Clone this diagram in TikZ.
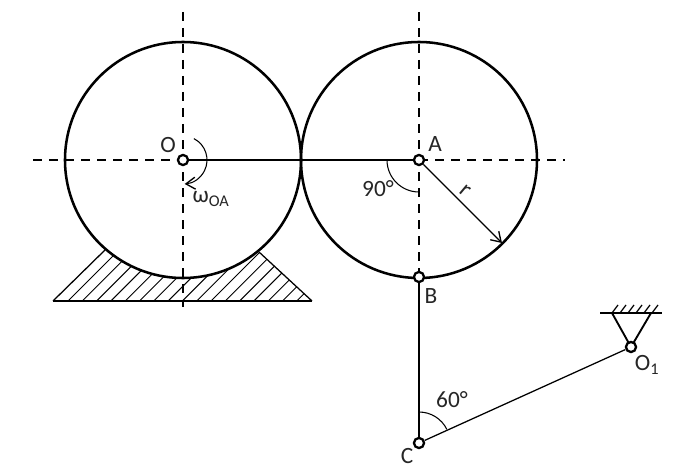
\documentclass[tikz,border=0pt]{standalone}
\usepackage{fontspec}
\setmainfont{Carlito}
\usetikzlibrary{arrows.meta}
\tikzset{
  pivot/.style={circle,draw=black,fill=white,line width=1.7pt,minimum size=7.6pt,inner sep=0pt},
  wheelline/.style={line width=1.9pt},
  axisline/.style={line width=1.05pt,dash pattern=on 7pt off 5pt},
  barline/.style={line width=0.95pt},
  thinline/.style={line width=0.8pt},
  hatchline/.style={line width=0.7pt},
  lab/.style={inner sep=0pt,font=\fontsize{17.5}{20}\selectfont,text=black!85},
  openarrow/.style={-{Straight Barb[length=7pt,width=9pt,line width=1pt]}}
}
\begin{document}
\begin{tikzpicture}[x=0.75pt,y=-0.75pt]
\useasboundingbox (0,0) rectangle (700,467);
\fill[white] (0,0) rectangle (700,467);
\coordinate (Oc) at (183,160);
\coordinate (Ac) at (419,160);
\coordinate (Bc) at (419,277);
\coordinate (Cc) at (419,443);
\coordinate (Qc) at (631,347);
\coordinate (gl) at (53,301);
\coordinate (gt1) at (105,250);
\coordinate (gt2) at (259,252);
\coordinate (gr) at (312,301);
\coordinate (rend) at (502,243);
% hatched ground
\begin{scope}
\clip (gl) -- (gt1) -- (gt2) -- (gr) -- cycle;
\foreach \x in {68,82.3,...,300}{
  \draw[hatchline] (\x,301) -- ++(60,-60);
}
\end{scope}
\fill[white] (Oc) circle (118);
\draw[barline] (gl) -- (gr);
\draw[barline] (gt2) -- (gr);
\draw[barline] (gl) -- (gt1);
% axes
\coordinate (h1a) at (33,160);
\coordinate (h1b) at (178,160);
\coordinate (v1a) at (183,12);
\coordinate (v1b) at (183,307);
\coordinate (h2b) at (565,160);
\coordinate (v2a) at (419,12);
\draw[axisline] (h1a) -- (h1b);
\draw[axisline] (v1a) -- (v1b);
\draw[axisline] (Ac) -- (h2b);
\draw[axisline] (v2a) -- (Bc);
% wheels
\draw[wheelline] (Oc) circle (118);
\draw[wheelline] (Ac) circle (118);
% arcs
\draw[thinline,openarrow] (Oc) ++(-63:24) arc (-63:86:24);
\draw[thinline] (Ac) ++(180:32) arc (180:90:32);
\draw[thinline] (Cc) ++(-90:31) arc (-90:-26:31);
% support
\coordinate (s1) at (600,313);
\coordinate (s2) at (662,313);
\coordinate (t1) at (612,313);
\coordinate (t2) at (651,313);
\draw[line width=1.4pt] (s1) -- (s2);
\draw[line width=1.4pt] (t1) -- (Qc) -- (t2);
\foreach \x in {612,620,628,636,644,652}{
  \draw[barline] (\x,313) -- ++(6,-8);
}
% pivots
\node[pivot] (O) at (Oc) {};
\node[pivot] (A) at (Ac) {};
\node[pivot] (B) at (Bc) {};
\node[pivot] (C) at (Cc) {};
\node[pivot] (Q) at (Qc) {};
% links
\draw[barline] (O) -- (A);
\draw[barline] (B) -- (C);
\draw[barline] (C) -- (Q);
\draw[barline,openarrow] (A) -- (rend);
% labels
\node[lab] (lO) at (168,145) {O};
\node[lab] (lA) at (435,144) {A};
\node[lab] (lB) at (431,296) {B};
\node[lab] (lC) at (407,456) {C};
\node[lab] (lQ) at (647,365) {O\textsubscript{1}};
\node[lab] (l90) at (378,189) {90°};
\node[lab] (l60) at (452,400) {60°};
\node[lab] (lw) at (211,199) {ω\textsubscript{OA}};
\node[lab,rotate=-40] (lr) at (465,191) {r};
\end{tikzpicture}
\end{document}
